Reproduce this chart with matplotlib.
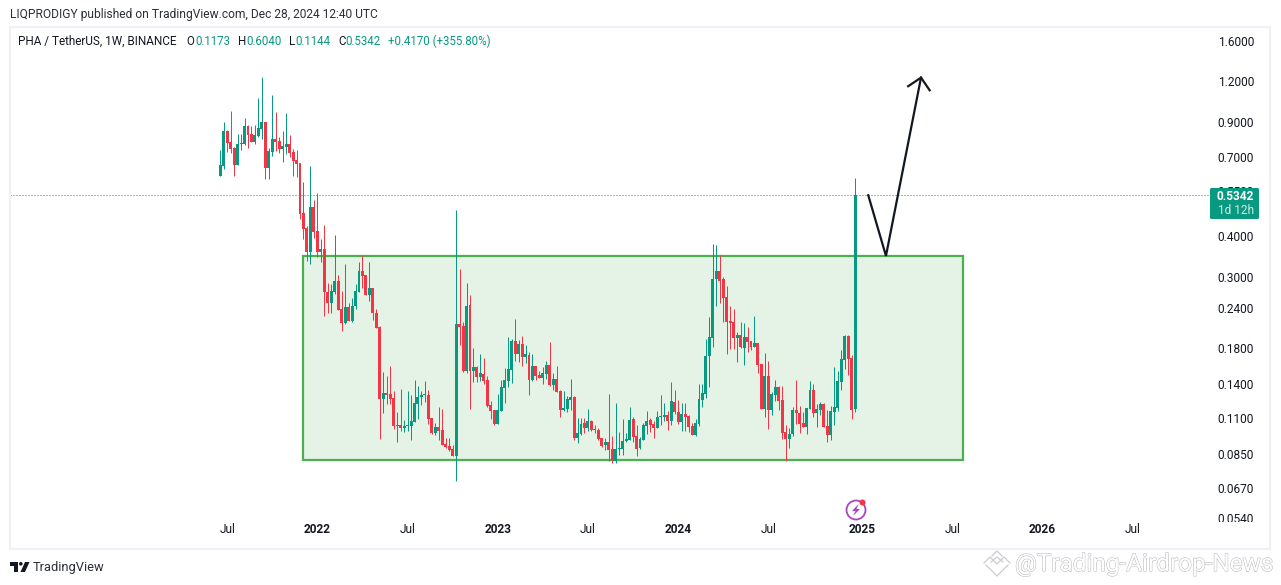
import matplotlib
matplotlib.use("Agg")
import matplotlib.pyplot as plt
import matplotlib.patheffects as pe
from matplotlib.patches import Rectangle, FancyBboxPatch, Polygon, Circle
import numpy as np
import pandas as pd

plt.rcParams['font.family'] = ['Roboto', 'DejaVu Sans']

# weekly PHA/USDT candles
first_week = pd.Timestamp('2021-06-21')
opens = [.611,.658,.844,.780,.748,.663,.769,.769,.875,.826,
         .780,.814,.856,.900,.649,.728,.797,.786,.743,.753,
         .769,.728,.687,.672,.472,.425,.357,.493,.415,.357,
         .365,.269,.249,.268,.291,.239,.216,.242,.219,.244,
         .269,.312,.303,.264,.277,.232,.210,.1259,.1313,.1304,
         .1267,.1040,.1047,.1025,.1040,.1040,.1069,.1215,.1276,.1295,
         .1295,.1100,.0989,.1032,.1010,.0914,.0901,.0882,.0840,.214,
         .211,.1536,.2457,.1536,.1579,.1472,.1503,.1441,.1206,.1165,
         .1054,.1156,.1361,.1430,.1546,.190,.1733,.1860,.1696,.1720,
         .1441,.1590,.1493,.1461,.1503,.1602,.1390,.1451,.1332,.1165,
         .1173,.1250,.1276,.0954,.0982,.1062,.1025,.1077,.1018,.1010,
         .0954,.0908,.0927,.0882,.0811,.0882,.0882,.0934,.0941,.1092,
         .0968,.0889,.0941,.1040,.1085,.1054,.1025,.1108,.1108,.1124,
         .1077,.1232,.1148,.1069,.1132,.1116,.1040,.0975,.1054,.1250,
         .1304,.1708,.1941,.295,.312,.295,.2600,.219,.217,.1941,
         .1983,.1808,.1955,.190,.1821,.1873,.1613,.1173,.1482,.1165,
         .1295,.1371,.1250,.0996,.0947,.0982,.1165,.1140,.1062,.1032,
         .1173,.1342,.1140,.1165,.1215,.1040,.0975,.1148,.1181,.1420,
         .1660,.1969,.1684,.1173]
highs = [.738,.900,.850,.973,.753,.826,.826,.926,.881,.875,
         .881,1.068,1.239,.900,.748,1.091,.966,.809,.844,.959,
         .820,.743,.738,.672,.587,.431,.658,.517,.543,.392,
         .434,.287,.285,.403,.303,.271,.328,.249,.257,.285,
         .333,.350,.303,.333,.277,.239,.211,.1525,.1482,.1590,
         .1332,.1148,.1351,.1085,.1332,.1295,.1441,.1381,.1332,.1430,
         .1342,.1100,.1062,.1190,.1173,.0954,.0954,.0908,.481,.3165,
         .217,.287,.264,.1808,.1590,.1733,.1684,.1482,.1241,.1165,
         .1304,.1441,.1568,.1955,.1927,.2221,.1915,.1969,.1848,.1757,
         .1733,.1590,.1536,.1579,.1648,.1887,.1514,.1590,.1342,.1332,
         .1286,.1451,.1286,.1100,.1100,.1100,.1173,.1085,.1047,.1025,
         .0954,.0954,.1304,.0968,.1224,.0996,.1092,.0989,.1190,.1108,
         .1047,.0961,.1062,.1156,.1100,.1077,.1156,.1295,.1224,.1156,
         .1420,.1342,.1250,.1224,.1224,.1124,.1062,.1092,.1400,.1400,
         .1927,.2253,.379,.376,.350,.299,.2805,.244,.239,.2025,
         .217,.216,.2095,.190,.227,.1873,.1613,.1745,.1648,.1323,
         .1441,.1381,.1381,.1047,.1025,.1190,.1441,.1198,.1148,.1181,
         .1430,.1400,.1215,.1232,.1224,.1165,.1198,.1579,.1536,.1783,
         .1983,.1983,.1720,.6040]
lows = [.611,.645,.728,.723,.611,.663,.738,.764,.748,.780,
        .769,.809,.797,.598,.602,.707,.733,.723,.677,.717,
        .702,.615,.607,.453,.392,.335,.328,.395,.345,.333,
        .227,.231,.231,.266,.237,.204,.214,.219,.217,.239,
        .268,.277,.264,.252,.221,.208,.0947,.1140,.1215,.1215,
        .1018,.0927,.1003,.0996,.1003,.0941,.1069,.1092,.1206,.1232,
        .1054,.0982,.0975,.0941,.0908,.0889,.0870,.0840,.0704,.1848,
        .1525,.1514,.1173,.1420,.1420,.1430,.1400,.1190,.1092,.1047,
        .1054,.1156,.1224,.1371,.1410,.1648,.1636,.1590,.1625,.1295,
        .1430,.1441,.1461,.1400,.1451,.1381,.1342,.1323,.1108,.1156,
        .1148,.1165,.0941,.0921,.0975,.0989,.1003,.1003,.0989,.0941,
        .0895,.0876,.0811,.0799,.0799,.0846,.0846,.0927,.0941,.0927,
        .0840,.0882,.0941,.0982,.0996,.0954,.1025,.1047,.1077,.1010,
        .1047,.1132,.1054,.1003,.1003,.0996,.0975,.0968,.1040,.1190,
        .1267,.1371,.1821,.244,.249,.217,.1733,.1795,.1795,.1636,
        .1808,.1602,.1757,.1783,.1821,.1514,.1173,.1108,.1018,.1124,
        .1241,.1165,.0947,.0811,.0889,.0968,.1054,.0989,.1032,.0982,
        .1173,.1108,.1032,.1124,.1032,.0927,.0941,.1047,.1156,.1342,
        .1557,.1493,.1092,.1144]
closes = [.663,.844,.775,.743,.663,.769,.775,.875,.820,.780,
          .820,.862,.900,.649,.733,.797,.780,.743,.758,.769,
          .723,.682,.668,.469,.422,.357,.493,.412,.357,.365,
          .268,.249,.271,.291,.237,.216,.242,.219,.244,.271,
          .312,.301,.264,.277,.231,.208,.126,.1313,.1295,.1259,
          .1040,.1047,.1025,.1040,.1047,.1077,.1224,.1276,.1295,.1304,
          .1092,.0989,.1032,.1003,.0908,.0895,.0876,.0840,.214,.2095,
          .1536,.244,.1536,.1579,.1472,.1514,.1430,.1198,.1156,.1054,
          .1165,.1371,.1441,.1557,.190,.1733,.1860,.1696,.1733,.1441,
          .1590,.1482,.1461,.1514,.1602,.1390,.1451,.1323,.1165,.1181,
          .1259,.1276,.0954,.0989,.1054,.1025,.1077,.1010,.1010,.0947,
          .0901,.0927,.0876,.0811,.0882,.0889,.0934,.0947,.1085,.0961,
          .0882,.0947,.1047,.1077,.1047,.1025,.1108,.1116,.1124,.1077,
          .1241,.1148,.1069,.1132,.1108,.1032,.0975,.1062,.1259,.1313,
          .1708,.1955,.295,.312,.291,.258,.217,.216,.1941,.1983,
          .1821,.1955,.1887,.1821,.1873,.1602,.1173,.1482,.1165,.1304,
          .1371,.1241,.0989,.0947,.0982,.1165,.1140,.1054,.1032,.1181,
          .1342,.1140,.1173,.1215,.1032,.0975,.1156,.1190,.1430,.1672,
          .1969,.1672,.1165,.5342]

price_ticks = [1.6, 1.2, 0.9, 0.7, 0.55, 0.4, 0.3, 0.24, 0.18, 0.14, 0.11, 0.085, 0.067, 0.054]
date_ticks = ['2021-07-05', '2022-01-03', '2022-07-04', '2023-01-02', '2023-07-03', '2024-01-01',
              '2024-07-01', '2025-01-06', '2025-07-07', '2026-01-05', '2026-07-06']
date_labels = ['Jul', '2022', 'Jul', '2023', 'Jul', '2024', 'Jul', '2025', 'Jul', '2026', 'Jul']

# drawing on the chart (week number, price)
box_weeks = [23.8, 214.1]
box_prices = [0.0816, 0.3475]
arrow_weeks = [186.8, 191.9, 202.0]
arrow_prices = [0.5345, 0.3475, 1.233]
head_weeks = [198.3, 202.0, 204.5]
head_prices = [1.160, 1.233, 1.127]
last_price = 0.5342

UP = '#089981'
DOWN = '#F23645'
INK = '#131722'
FRAME = '#F0F1F6'

W, H = 1281, 585
fig = plt.figure(figsize=(W / 100, H / 100), dpi=100, facecolor='white')
ax = fig.add_axes([10 / W, 1 - 549 / H, 1260 / W, 522 / H])
ax.set_yscale('log')

x = np.arange(len(opens))
o, h, l, c = map(np.array, (opens, highs, lows, closes))
colors = np.where(c >= o, UP, DOWN)

ax.add_patch(Rectangle((box_weeks[0], box_prices[0]), box_weeks[1] - box_weeks[0],
                       box_prices[1] - box_prices[0], fc='#E5F3E6', ec='#4CAF50', lw=1.6, zorder=1))
wicks = ax.vlines(x, l, h, colors=colors, lw=0.72, zorder=3)
wicks.set_snap(True)
ax.bar(x, np.abs(c - o), bottom=np.minimum(o, c), width=0.85, color=colors, lw=0, zorder=3)

ax.plot(arrow_weeks, arrow_prices, color=INK, lw=1.6, zorder=4, solid_joinstyle='miter')
ax.plot(head_weeks, head_prices, color=INK, lw=1.6, zorder=4, solid_joinstyle='miter')
last_line = ax.axhline(last_price, xmax=0.9516, color=UP, lw=0.72, ls=(0, (1, 2)), zorder=2)
last_line.set_snap(True)

ax.set_xlim(-60.6, 302.6)
ax.set_ylim(0.0433, 1.767)
ax.set_yticks(price_ticks)
ax.set_yticklabels([f'{p:.4f}' for p in price_ticks])
ax.minorticks_off()
ax.yaxis.tick_right()
ax.tick_params(axis='y', length=0, pad=-11.5, labelsize=8.6, labelcolor=INK)
for t in ax.get_yticklabels():
    t.set_ha('right')

ax.set_xticks([(pd.Timestamp(d) - first_week).days / 7 for d in date_ticks])
ax.set_xticklabels(date_labels)
ax.tick_params(axis='x', length=0, pad=-19, labelsize=8.6, labelcolor=INK)
for t, lab in zip(ax.get_xticklabels(), date_labels):
    if lab != 'Jul':
        t.set_fontweight('bold')

for s in ax.spines.values():
    s.set_color(FRAME)
    s.set_linewidth(1.6)

# overlay in pixel units for header, footer, price tag and watermark
ov = fig.add_axes([0, 0, 1, 1])
ov.set_xlim(0, W)
ov.set_ylim(H, 0)
ov.axis('off')

ov.add_patch(Rectangle((1212, 522), 56, 26, fc='white', ec='none'))

ov.text(10, 14.7, 'LIQPRODIGY published on TradingView.com, Dec 28, 2024 12:40 UTC',
        fontsize=8.62, color='#2A2E39', va='center')
ov.text(18, 41.5, 'PHA / TetherUS, 1W, BINANCE', fontsize=8.5, color=INK, va='center')
for px, s, col in [(186, 'O', INK), (195, '0.1173', UP), (238, 'H', INK), (246, '0.6040', UP),
                   (289, 'L', INK), (295, '0.1144', UP), (338, 'C', INK), (345, '0.5342', UP),
                   (388, '+0.4170 (+355.80%)', UP)]:
    ov.text(px, 41.5, s, fontsize=8.3, color=col, va='center')

ov.add_patch(FancyBboxPatch((1210, 188), 49, 31, boxstyle='round,pad=0,rounding_size=1.5', fc=UP, ec='none'))
ov.text(1254, 197, '0.5342', fontsize=8.6, color='white', fontweight='bold', ha='right', va='center')
ov.text(1254, 211, '1d 12h', fontsize=8.6, color='#CFEAE4', ha='right', va='center')

# earnings style icon near the last candle
ov.add_patch(Circle((856, 510), 9.5, fc='none', ec='#AB47BC', lw=1.3))
ov.add_patch(Polygon([(858.5, 504), (852, 511), (855.5, 511), (853, 516), (860, 509), (856.5, 509)],
                     fc='#AB47BC', ec='none'))
ov.add_patch(Circle((862.5, 502.5), 3, fc=DOWN, ec='none'))

# TradingView logo and name
ov.add_patch(Polygon([(10, 562), (18, 562), (18, 572), (14, 572), (14, 565.5), (10, 565.5)], fc=INK, ec='none'))
ov.add_patch(Circle((20.8, 563.8), 1.8, fc=INK, ec='none'))
ov.add_patch(Polygon([(25, 562), (29.5, 562), (25, 572), (20.5, 572)], fc=INK, ec='none'))
ov.text(33, 567, 'TradingView', fontsize=9.25, color='#2A2E39', va='center')

# watermark, hollow text with diamond mark
ov.text(1015, 564.5, '@Trading-Airdrop-News', fontsize=17.5, color='white', va='center',
        path_effects=[pe.Stroke(linewidth=0.8, foreground='#BEBEBE'), pe.Normal()])
mark = '#CCCCCC'
for xs, ys in [([992, 997, 1002], [556, 551, 556]), ([984, 990, 997, 1004, 1010], [563, 557, 564, 557, 563]),
               ([991, 997, 1003], [562, 557, 562]), ([986, 997, 1008], [565, 576, 565])]:
    ov.plot(xs, ys, color=mark, lw=0.9)

fig.savefig('out.png', dpi=100)
